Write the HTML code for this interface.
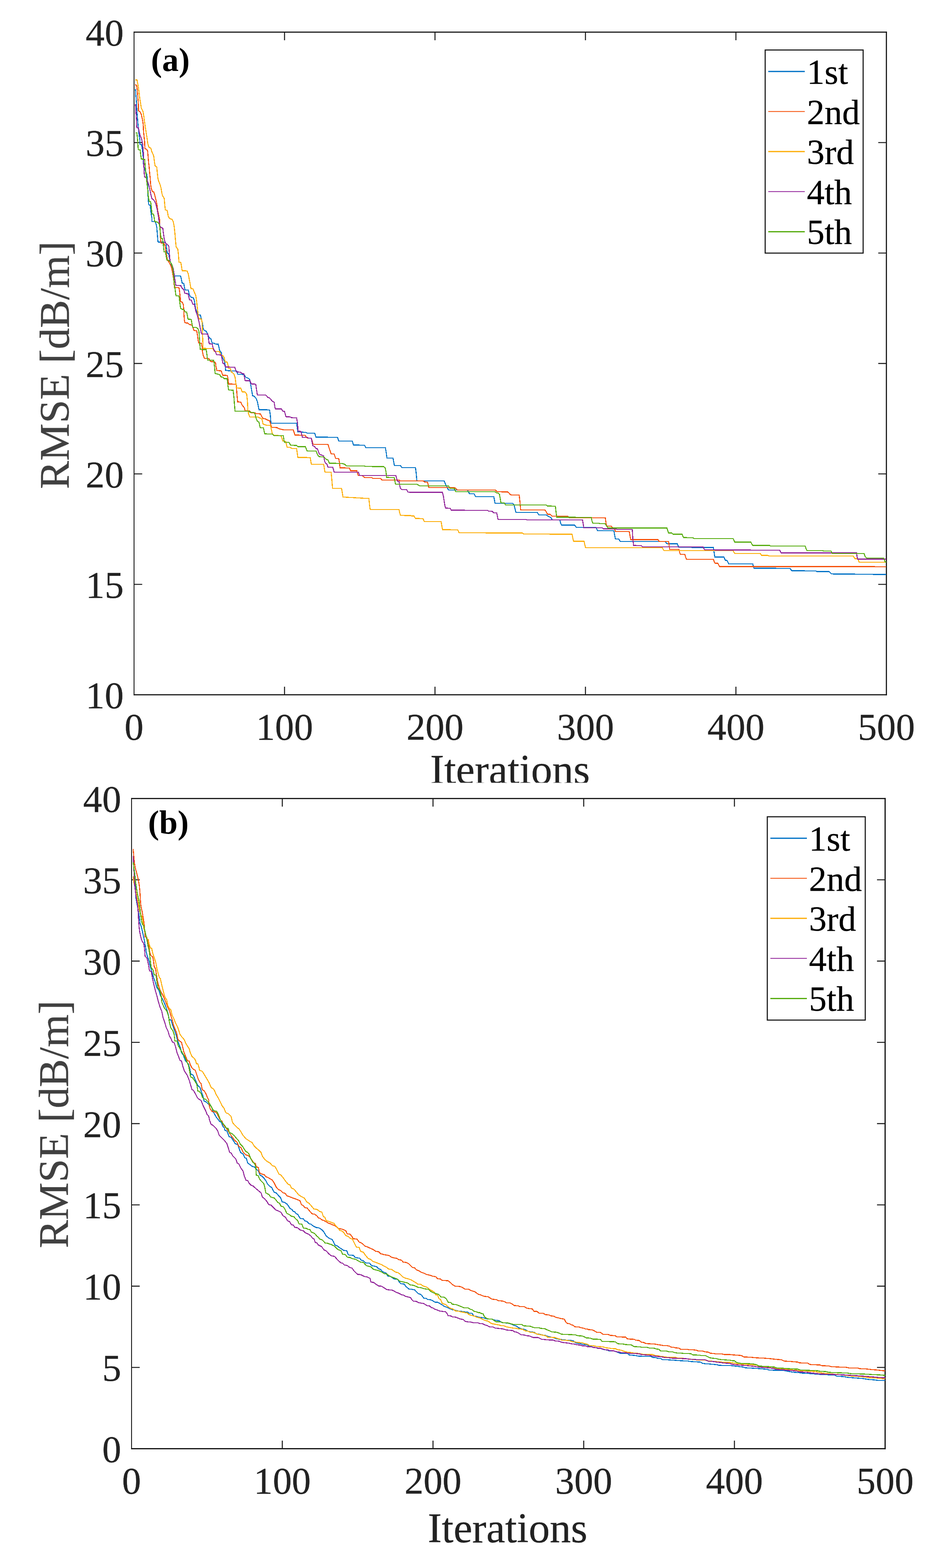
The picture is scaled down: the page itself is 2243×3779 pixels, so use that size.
<!DOCTYPE html>
<html lang="en"><head><meta charset="utf-8"><title>RMSE vs Iterations</title>
<style>html,body{margin:0;padding:0;background:#fff}svg{display:block}text{font-family:"Liberation Serif","DejaVu Serif",serif}.t{font-size:91.67px;fill:#222222;stroke:#222;stroke-width:.4}.l{font-size:101.9px;fill:#222222;stroke:#222;stroke-width:.4}.yl{font-size:101.9px;fill:#404040;stroke:#404040;stroke-width:.4}.g{font-size:85px;fill:#000;stroke:#000;stroke-width:.4}.b{font-size:80px;font-weight:bold;fill:#000}.c{fill:none;stroke-width:2.4;stroke-linejoin:miter;stroke-linecap:butt;shape-rendering:crispEdges}</style></head><body>
<svg width="2243" height="3779" viewBox="0 0 2243 3779">
<rect width="2243" height="3779" fill="#fff"/>
<g id="plot-a">
<path d="M685.50,1674.50 v-19.6 M685.50,77.50 v19.6 M1048.00,1674.50 v-19.6 M1048.00,77.50 v19.6 M1410.50,1674.50 v-19.6 M1410.50,77.50 v19.6 M1773.00,1674.50 v-19.6 M1773.00,77.50 v19.6 M323.00,343.67 h19.6 M2135.50,343.67 h-19.6 M323.00,609.83 h19.6 M2135.50,609.83 h-19.6 M323.00,876.00 h19.6 M2135.50,876.00 h-19.6 M323.00,1142.17 h19.6 M2135.50,1142.17 h-19.6 M323.00,1408.33 h19.6 M2135.50,1408.33 h-19.6" stroke="#161616" stroke-width="2.4" fill="none"/>
<g fill="#161616"><rect x="321.90" y="76.10" width="2.10" height="1599.70"/><rect x="321.90" y="76.10" width="1815.00" height="2.70"/><rect x="2134.20" y="76.10" width="2.70" height="1599.70"/><rect x="321.90" y="1673.10" width="1815.00" height="2.70"/></g>
<g class="c">
<path d="M326.5,215.4 327.5,231.7 328.8,248.0 329.5,264.3 330.9,280.6 332.2,296.9 333.6,310.5 334.3,320.0 335.6,329.6 337.0,337.7 337.0,347.9 341.1,348.6 342.4,356.8 344.2,370.3 345.2,383.9 345.8,397.5 348.6,408.4 353.3,419.3 355.1,428.8 355.6,445.1 356.4,460.1 356.7,473.7 358.1,491.4 359.4,494.1 361.5,494.3 362.8,503.6 364.0,514.6 365.7,524.3 366.1,534.0 373.7,534.3 376.2,540.4 377.8,548.5 379.1,564.7 380.2,577.6 380.7,583.3 398.8,583.8 400.4,590.6 401.7,600.3 402.9,610.3 406.1,610.8 407.7,619.7 410.1,629.4 413.4,639.1 416.6,648.8 418.5,658.5 419.8,665.0 435.2,665.3 437.3,674.7 438.9,682.4 442.8,683.1 444.4,692.5 446.0,698.9 453.8,699.3 455.7,708.6 457.8,713.5 460.3,716.4 465.1,717.0 468.0,723.2 469.7,732.9 470.8,742.6 473.2,749.1 476.1,757.2 478.9,758.8 482.9,759.6 484.5,766.9 487.0,774.9 488.6,784.7 489.4,791.1 491.8,796.0 496.7,798.4 499.9,804.1 502.3,810.5 504.8,814.6 508.0,816.2 510.1,823.5 511.2,826.7 515.3,827.0 518.5,829.1 525.8,829.6 527.4,836.4 529.0,844.5 531.4,847.7 533.4,850.2 535.5,860.7 538.7,867.1 541.1,872.0 542.8,881.7 543.6,893.0 560.0,893.9 570.3,894.4 572.6,901.7 585.2,902.4 588.6,903.5 592.1,909.3 596.7,910.9 601.2,913.8 603.5,924.1 605.8,937.9 608.6,953.9 612.7,955.1 617.3,960.8 620.0,967.7 621.9,976.8 624.1,987.4 649.3,987.8 651.2,999.7 652.8,1019.9 714.6,1019.9 717.6,1041.0 726.1,1041.4 736.4,1042.1 739.8,1043.7 758.2,1044.0 761.1,1053.6 813.2,1053.8 816.1,1062.7 848.7,1063.0 851.6,1072.6 878.0,1072.8 881.2,1078.8 881.8,1079.1 928.6,1079.3 930.9,1093.3 932.2,1103.8 946.9,1104.1 948.7,1113.9 950.1,1121.7 964.8,1121.9 968.2,1126.8 1001.0,1127.0 1002.6,1139.1 1004.2,1157.5 1004.9,1158.8 1070.1,1159.1 1073.6,1167.8 1077.0,1173.5 1078.9,1178.1 1080.5,1180.8 1126.3,1181.3 1128.6,1184.9 1130.9,1189.8 1142.3,1190.0 1145.8,1196.9 1189.7,1197.1 1192.7,1212.9 1200.0,1212.9 1235.5,1213.2 1238.5,1216.8 1240.8,1226.0 1242.8,1234.7 1294.4,1234.9 1298.1,1240.7 1316.4,1240.9 1320.3,1244.3 1325.5,1246.2 1328.3,1248.9 1330.6,1253.0 1348.9,1253.0 1350.7,1260.4 1352.8,1265.4 1384.4,1265.6 1388.3,1270.7 1436.0,1270.9 1439.4,1278.7 1479.0,1278.9 1480.9,1290.1 1482.7,1298.9 1490.5,1299.1 1494.4,1304.8 1520.0,1304.8 1602.5,1305.0 1606.6,1310.3 1631.8,1310.5 1633.9,1315.8 1635.7,1319.2 1718.9,1319.5 1720.5,1331.8 1722.1,1342.4 1744.1,1342.6 1745.9,1346.7 1747.5,1350.4 1751.8,1350.8 1753.7,1354.7 1755.5,1358.9 1813.7,1359.1 1815.1,1365.0 1816.7,1369.4 1830.0,1369.6 1903.3,1369.8 1905.6,1373.0 1907.9,1375.6 1965.6,1375.8 1967.9,1377.4 1997.7,1377.6 2000.7,1380.8 2003.0,1383.1 2012.1,1383.6 2101.5,1383.8 2103.8,1384.5 2135.4,1384.7" stroke="#0072c6"/>
<path d="M326.1,203.4 329.5,207.2 330.9,216.7 332.2,237.1 333.6,253.4 333.6,267.0 337.7,269.7 340.4,275.9 343.1,287.4 345.2,301.0 345.8,316.0 347.2,329.6 348.6,343.2 348.8,358.1 352.6,359.5 355.6,363.5 356.7,375.8 357.8,389.4 359.4,403.0 360.5,416.6 361.9,430.2 362.8,443.8 364.2,453.3 366.9,461.4 370.3,462.1 372.3,468.2 375.1,479.1 377.1,487.3 378.7,496.8 379.8,506.3 384.3,527.5 385.6,548.5 386.2,567.9 387.5,580.9 387.8,585.7 394.8,586.0 398.0,593.8 399.6,605.1 401.7,616.4 403.3,626.2 408.5,634.2 411.8,640.7 414.2,648.8 416.6,661.7 419.0,677.9 420.2,692.5 431.2,693.3 432.8,703.8 434.1,715.1 435.2,727.2 439.2,728.0 441.7,734.5 442.8,745.8 443.3,758.8 444.1,771.7 445.7,778.2 452.2,778.5 456.2,782.2 461.9,783.0 465.1,789.5 466.7,796.0 474.0,797.6 475.6,807.3 477.3,820.2 478.9,826.7 485.3,827.0 487.0,836.4 487.8,847.7 489.4,855.8 492.6,863.9 503.1,864.2 507.2,871.2 516.9,872.0 519.3,875.2 520.4,883.3 522.5,893.0 533.1,893.8 534.9,899.6 536.3,904.3 547.6,904.8 549.1,910.9 550.0,918.5 550.9,925.6 567.5,925.8 569.2,926.4 571.0,951.6 572.6,968.4 580.2,969.0 582.9,975.7 585.7,979.1 588.6,982.6 590.5,990.1 601.2,990.6 604.7,994.7 615.0,995.6 617.3,997.0 627.6,997.5 631.0,1004.8 633.8,1008.5 639.0,1009.4 645.9,1013.0 649.8,1014.0 652.1,1022.7 654.4,1030.0 667.2,1030.4 671.1,1033.0 676.8,1034.6 683.7,1035.9 706.6,1036.2 710.7,1048.5 735.3,1049.0 738.7,1054.3 741.0,1055.9 750.1,1056.3 752.4,1063.9 754.3,1070.8 790.2,1071.0 793.7,1082.2 797.8,1093.7 805.1,1094.1 808.6,1104.7 816.1,1105.1 817.7,1114.3 819.3,1127.6 841.8,1127.8 844.5,1134.5 859.7,1134.7 862.9,1145.9 873.9,1146.4 877.3,1150.5 880.0,1151.0 896.0,1151.3 898.3,1152.9 917.1,1153.1 920.1,1156.8 961.3,1157.0 964.3,1158.8 1019.7,1159.1 1022.5,1161.6 1030.1,1162.0 1031.7,1168.9 1033.0,1174.9 1078.9,1175.1 1095.3,1175.3 1098.8,1177.6 1102.2,1181.1 1193.9,1181.3 1197.3,1184.9 1200.0,1185.2 1222.9,1185.5 1226.3,1188.2 1229.3,1192.1 1232.1,1192.8 1250.9,1193.0 1252.7,1210.0 1254.5,1228.8 1312.7,1229.0 1315.7,1232.9 1319.1,1239.3 1325.5,1239.7 1330.1,1243.9 1367.7,1244.1 1370.7,1247.8 1425.7,1248.0 1458.4,1248.2 1460.0,1260.4 1461.6,1267.7 1472.6,1267.9 1474.9,1271.4 1480.0,1272.3 1482.9,1281.0 1516.2,1281.2 1518.0,1292.4 1519.6,1300.5 1520.0,1300.5 1585.3,1300.5 1588.0,1304.8 1611.0,1305.0 1612.1,1315.8 1613.5,1323.8 1635.7,1324.0 1637.3,1330.7 1638.9,1335.7 1649.9,1335.9 1651.7,1342.1 1653.8,1347.9 1718.9,1348.1 1720.7,1353.6 1722.5,1357.3 1729.6,1357.5 1731.7,1362.1 1733.7,1365.5 1830.0,1365.5 2077.4,1365.5 2135.4,1365.9" stroke="#f5500a"/>
<path d="M326.1,192.5 330.2,192.5 330.6,195.0 331.6,200.4 333.6,211.3 335.6,226.2 337.0,239.8 339.0,250.7 340.4,260.2 344.5,268.4 346.5,280.6 347.9,291.5 349.9,305.1 352.0,318.7 354.0,330.9 356.0,345.9 358.7,354.7 363.5,357.4 365.5,364.9 370.3,375.8 372.3,392.1 373.7,399.6 377.8,403.0 378.7,413.9 380.5,430.2 381.9,435.6 385.3,443.8 388.0,453.3 390.0,465.5 391.4,471.0 395.5,477.8 396.8,491.4 398.2,505.6 402.9,507.3 405.3,521.0 408.5,526.7 414.2,528.3 417.4,534.0 419.5,545.3 421.5,563.1 422.8,579.2 424.4,595.4 428.3,600.3 429.9,613.2 431.2,631.8 435.7,632.6 437.3,642.3 438.9,652.4 450.6,652.8 453.5,660.1 455.7,671.4 457.8,682.8 460.0,695.4 464.8,696.0 468.0,703.8 471.6,711.9 473.2,721.6 474.5,732.9 476.1,747.5 477.3,758.8 478.9,768.5 485.8,768.8 487.0,778.2 487.8,799.2 488.6,821.9 489.4,839.6 512.8,840.0 516.1,846.9 529.0,847.4 531.4,855.0 537.1,857.4 540.3,862.3 542.4,872.0 547.6,872.8 549.6,881.7 550.8,887.8 554.9,888.2 557.6,897.1 560.0,897.8 563.4,901.2 566.4,909.3 568.0,921.9 569.6,935.1 580.2,935.6 583.4,944.3 590.9,944.8 594.4,950.5 596.2,967.7 597.1,988.3 598.9,997.5 601.7,1004.8 621.9,1005.2 626.4,1007.8 631.0,1009.4 633.8,1022.2 639.0,1023.8 642.5,1024.9 651.6,1025.4 654.4,1037.5 656.2,1045.6 659.7,1049.0 676.8,1050.1 679.6,1057.0 681.4,1062.7 688.3,1063.9 691.7,1077.6 698.6,1078.1 703.2,1080.8 714.6,1081.3 717.6,1102.4 747.4,1102.8 750.1,1118.9 779.9,1119.3 782.9,1137.9 797.8,1138.1 799.4,1155.5 801.2,1176.8 823.0,1177.1 826.4,1197.9 834.9,1198.4 880.0,1201.0 888.7,1201.2 890.3,1217.0 891.9,1227.8 961.3,1228.0 962.9,1235.3 964.8,1242.2 989.5,1242.5 991.1,1243.4 997.3,1243.6 1001.0,1249.6 1019.1,1249.8 1022.0,1256.7 1062.8,1256.9 1064.7,1268.6 1066.3,1276.6 1102.7,1276.8 1106.1,1284.1 1200.0,1284.4 1258.4,1284.7 1261.9,1287.2 1378.2,1287.4 1380.1,1297.0 1381.9,1304.4 1407.3,1304.6 1408.9,1313.1 1410.8,1319.9 1520.0,1319.9 1595.6,1319.9 1597.9,1324.5 1599.7,1326.8 1766.3,1327.0 1768.1,1330.7 1770.2,1333.7 1830.0,1333.9 1830.0,1333.9 1832.3,1334.5 1834.6,1338.4 1850.2,1338.7 1852.5,1339.8 2055.7,1340.0 2057.9,1343.7 2059.8,1346.5 2067.1,1346.7 2068.3,1350.6 2069.9,1354.9 2133.6,1355.2" stroke="#fdae0a"/>
<path d="M326.5,251.4 327.5,272.5 328.8,288.8 329.5,306.4 330.2,308.1 333.6,308.5 335.6,318.7 337.7,326.8 341.1,335.0 343.1,344.5 344.5,355.4 345.6,370.3 346.1,383.9 346.5,400.3 347.2,413.9 348.3,426.1 352.0,428.1 355.6,437.0 358.7,446.5 360.8,456.0 362.8,465.5 364.9,475.0 366.2,479.1 369.6,481.2 373.0,485.9 375.7,492.7 378.2,502.2 381.8,522.6 383.5,535.6 385.9,546.9 392.3,550.1 393.6,561.5 395.3,572.8 397.2,582.5 399.6,587.3 403.3,589.0 406.9,593.8 407.7,606.7 408.8,619.7 410.1,631.0 414.2,637.5 417.4,647.2 419.5,660.1 421.5,674.7 423.9,687.9 435.7,688.4 438.4,694.1 442.8,698.1 445.4,707.0 453.0,707.8 455.1,716.7 456.7,722.9 461.1,723.5 464.3,732.9 468.4,733.7 470.3,742.6 471.6,749.9 474.0,755.5 476.4,763.6 478.9,773.3 481.0,783.0 482.9,792.7 484.9,802.4 486.2,804.9 500.7,805.4 502.3,815.4 503.9,828.3 511.2,829.1 513.3,838.0 516.1,844.5 519.3,847.7 521.7,855.0 533.1,855.5 535.0,865.5 537.1,876.0 540.3,876.8 542.8,884.1 545.2,884.6 565.4,884.9 567.8,891.4 569.4,896.2 579.5,897.1 582.9,900.1 587.5,900.8 590.5,917.3 602.4,917.7 605.4,925.3 616.1,925.8 620.0,952.1 640.6,952.3 644.8,957.4 649.3,959.0 652.8,963.1 656.2,967.2 660.3,968.8 663.1,985.3 678.0,985.5 681.4,991.0 685.5,991.7 688.8,1004.3 699.7,1004.8 702.0,1006.6 714.6,1007.1 716.9,1020.4 718.1,1038.7 724.9,1039.8 728.4,1053.6 741.0,1054.3 743.3,1055.9 750.1,1056.3 753.6,1074.2 758.2,1076.5 761.6,1081.1 765.0,1081.8 767.3,1089.1 769.6,1094.8 775.3,1097.1 779.9,1098.7 782.2,1112.0 784.5,1116.6 787.9,1118.9 790.2,1125.8 801.7,1126.2 805.1,1137.7 863.6,1138.1 866.5,1145.9 880.0,1146.0 953.8,1146.2 955.6,1152.9 957.4,1159.3 961.3,1160.2 962.9,1168.9 964.3,1175.8 967.5,1179.7 979.7,1179.9 983.1,1186.3 1066.0,1186.6 1068.3,1196.4 1070.1,1207.9 1072.0,1219.3 1073.6,1224.6 1084.4,1224.8 1087.3,1229.6 1174.4,1229.9 1177.4,1231.9 1185.8,1232.4 1189.3,1235.8 1196.6,1236.0 1198.4,1244.5 1200.0,1251.8 1200.0,1251.8 1200.7,1251.8 1267.6,1251.9 1268.7,1252.8 1403.4,1253.0 1405.0,1262.7 1406.6,1271.8 1450.9,1272.1 1454.3,1274.6 1484.1,1274.8 1486.4,1275.9 1523.0,1276.2 1523.4,1276.8 1524.6,1297.5 1526.4,1314.6 1544.7,1314.9 1547.9,1317.8 1694.1,1318.1 1696.4,1323.1 1698.2,1325.2 1830.0,1325.8 1878.6,1326.1 1880.4,1330.0 1882.2,1332.5 2063.7,1332.7 2064.8,1341.4 2066.4,1347.4 2135.4,1347.6" stroke="#92259a"/>
<path d="M326.5,320.0 329.8,320.3 330.9,330.9 332.0,343.2 332.9,359.5 333.6,360.8 337.7,361.5 339.0,373.1 340.7,383.3 348.6,383.9 349.2,392.1 350.6,408.4 352.0,422.0 353.3,435.6 355.1,450.6 356.4,462.8 357.8,476.4 359.2,485.2 362.8,485.9 364.2,495.4 365.7,509.7 366.5,515.8 370.0,516.2 371.3,524.3 372.9,534.3 377.8,534.8 381.8,537.5 384.3,542.1 385.6,553.4 386.7,564.7 388.3,574.4 391.5,575.2 393.2,587.3 394.3,598.7 395.3,606.7 398.5,607.1 400.1,616.4 402.1,626.5 406.1,627.0 410.1,631.0 414.2,637.5 416.6,648.8 417.9,661.7 419.0,674.7 420.7,689.2 422.3,700.5 423.9,712.7 431.2,713.2 432.5,723.2 434.1,736.1 435.2,742.6 438.4,745.5 442.8,745.8 446.5,752.0 449.8,752.3 451.4,760.4 453.0,769.3 460.6,769.8 462.2,778.2 464.3,788.7 473.2,789.2 477.3,792.7 479.4,799.2 480.5,815.4 481.6,831.6 482.6,842.1 496.7,842.6 498.3,852.6 499.4,862.3 500.4,867.9 514.9,868.4 516.1,876.8 517.2,888.2 518.2,900.0 529.7,903.1 531.1,906.7 533.0,908.6 537.3,908.9 539.6,912.4 547.2,912.6 548.1,920.4 549.5,931.7 550.9,940.2 561.8,940.4 562.7,949.6 563.7,959.1 564.6,971.3 565.6,982.6 566.0,990.7 598.9,990.8 602.4,993.6 612.2,994.0 615.0,999.7 617.3,1008.9 620.0,1015.3 623.7,1016.9 626.9,1030.7 634.5,1031.1 637.9,1045.6 656.2,1046.0 659.7,1049.7 682.6,1049.9 684.9,1065.7 696.3,1066.0 700.2,1073.1 714.6,1073.5 717.6,1076.5 735.9,1076.7 739.8,1086.8 761.6,1087.0 765.0,1096.0 768.5,1100.5 779.9,1101.2 785.7,1107.0 790.2,1108.6 793.7,1116.6 823.5,1116.8 830.3,1118.9 834.9,1123.0 878.4,1123.2 880.0,1124.2 924.7,1124.5 928.1,1127.7 929.9,1136.8 931.5,1150.6 949.9,1151.0 951.5,1159.7 952.9,1166.8 1004.9,1167.1 1010.6,1170.7 1080.5,1171.0 1083.9,1176.9 1094.9,1177.4 1097.6,1184.9 1192.7,1185.2 1196.2,1187.9 1200.7,1188.6 1203.4,1191.6 1205.0,1200.8 1206.9,1211.8 1214.9,1212.0 1217.9,1216.8 1315.7,1217.1 1319.1,1219.6 1338.1,1219.8 1339.7,1235.2 1341.4,1246.6 1424.5,1246.8 1426.3,1255.8 1428.2,1260.8 1442.8,1261.1 1445.1,1261.7 1457.7,1262.0 1461.2,1267.2 1464.6,1272.3 1520.0,1272.3 1606.6,1272.5 1608.9,1279.1 1610.7,1284.4 1618.5,1284.6 1621.3,1287.4 1643.3,1287.6 1645.5,1292.9 1647.1,1295.6 1669.4,1295.9 1671.7,1297.9 1766.3,1298.1 1768.6,1303.2 1770.2,1306.4 1809.1,1306.6 1811.4,1311.7 1813.9,1314.6 1830.0,1314.6 1854.1,1314.6 1856.3,1315.8 1940.0,1316.0 1942.3,1323.1 1944.5,1327.0 1982.3,1327.2 1984.0,1327.9 2002.3,1328.1 2004.6,1333.9 2082.0,1334.3 2084.3,1341.4 2087.7,1344.9 2129.0,1345.1 2131.3,1351.7 2133.6,1354.7 2135.4,1355.2" stroke="#58ad12"/>
</g>
<text class="t" text-anchor="end" x="298.0" y="110.0">40</text>
<text class="t" text-anchor="end" x="298.0" y="376.2">35</text>
<text class="t" text-anchor="end" x="298.0" y="642.3">30</text>
<text class="t" text-anchor="end" x="298.0" y="908.5">25</text>
<text class="t" text-anchor="end" x="298.0" y="1174.7">20</text>
<text class="t" text-anchor="end" x="298.0" y="1440.8">15</text>
<text class="t" text-anchor="end" x="298.0" y="1707.0">10</text>
<text class="t" text-anchor="middle" x="323.0" y="1783.0">0</text>
<text class="t" text-anchor="middle" x="685.5" y="1783.0">100</text>
<text class="t" text-anchor="middle" x="1048.0" y="1783.0">200</text>
<text class="t" text-anchor="middle" x="1410.5" y="1783.0">300</text>
<text class="t" text-anchor="middle" x="1773.0" y="1783.0">400</text>
<text class="t" text-anchor="middle" x="2135.5" y="1783.0">500</text>
<clipPath id="clipa"><rect x="900" y="1790" width="700" height="96.5"/></clipPath>
<text class="l" text-anchor="middle" x="1228.7" y="1889.0" clip-path="url(#clipa)">Iterations</text>
<text class="yl" text-anchor="middle" transform="translate(165.6,880.0) rotate(-90)">RMSE [dB/m]</text>
<text class="b" x="363.8" y="171">(a)</text>
<rect x="1843.50" y="120.50" width="236.00" height="489.50" fill="#fff" stroke="#161616" stroke-width="2.6"/>
<path d="M1850.9,172.2 h88" stroke="#0072c6" stroke-width="3" fill="none"/>
<text class="g" x="1944.0" y="202.4">1st</text>
<path d="M1850.9,268.8 h88" stroke="#f5500a" stroke-width="2" fill="none"/>
<text class="g" x="1944.0" y="298.9">2nd</text>
<path d="M1850.9,365.3 h88" stroke="#fdae0a" stroke-width="3" fill="none"/>
<text class="g" x="1944.0" y="395.4">3rd</text>
<path d="M1850.9,461.8 h88" stroke="#92259a" stroke-width="2" fill="none"/>
<text class="g" x="1944.0" y="491.9">4th</text>
<path d="M1850.9,558.4 h88" stroke="#58ad12" stroke-width="3" fill="none"/>
<text class="g" x="1944.0" y="588.4">5th</text>
</g>
<g id="plot-b">
<path d="M680.10,3491.50 v-19.6 M680.10,1924.50 v19.6 M1043.20,3491.50 v-19.6 M1043.20,1924.50 v19.6 M1406.30,3491.50 v-19.6 M1406.30,1924.50 v19.6 M1769.40,3491.50 v-19.6 M1769.40,1924.50 v19.6 M317.00,2120.38 h19.6 M2132.50,2120.38 h-19.6 M317.00,2316.25 h19.6 M2132.50,2316.25 h-19.6 M317.00,2512.12 h19.6 M2132.50,2512.12 h-19.6 M317.00,2708.00 h19.6 M2132.50,2708.00 h-19.6 M317.00,2903.88 h19.6 M2132.50,2903.88 h-19.6 M317.00,3099.75 h19.6 M2132.50,3099.75 h-19.6 M317.00,3295.62 h19.6 M2132.50,3295.62 h-19.6" stroke="#161616" stroke-width="2.4" fill="none"/>
<g fill="#161616"><rect x="315.90" y="1923.10" width="2.10" height="1569.80"/><rect x="315.90" y="1923.10" width="1818.00" height="2.80"/><rect x="2131.00" y="1923.10" width="2.90" height="1569.80"/><rect x="315.90" y="3490.00" width="1818.00" height="2.90"/></g>
<g class="c">
<path d="M321.1,2079.6 323.3,2096.0 325.2,2109.6 326.0,2123.2 326.6,2136.8 327.0,2150.3 327.4,2163.9 330.4,2180.3 333.8,2197.9 335.8,2210.2 337.2,2223.8 340.6,2234.6 343.3,2245.5 345.6,2256.4 347.8,2265.9 349.4,2276.8 350.5,2280.0 352.3,2294.0 354.9,2304.5 358.4,2313.3 361.9,2329.1 366.3,2343.1 369.8,2355.3 374.2,2367.6 377.7,2379.9 382.9,2386.9 386.4,2399.1 392.6,2409.6 397.8,2421.9 402.2,2434.2 405.7,2446.4 407.4,2456.9 411.8,2457.8 415.3,2469.2 419.7,2481.5 424.1,2493.7 427.2,2506.0 431.1,2516.5 434.6,2525.3 437.2,2536.7 441.6,2542.8 446.9,2556.8 453.9,2563.8 457.4,2576.1 460.0,2589.2 465.3,2591.0 470.5,2602.4 474.9,2612.9 477.5,2617.2 481.9,2620.7 485.4,2632.1 488.9,2640.9 491.5,2653.2 496.8,2655.8 501.2,2660.2 507.3,2664.5 510.8,2670.7 513.4,2680.0 514.4,2680.0 516.7,2684.7 521.2,2692.7 525.8,2698.4 529.3,2703.0 533.2,2704.1 536.1,2713.3 540.7,2719.0 541.9,2724.3 546.4,2725.2 549.9,2733.9 552.2,2739.7 556.7,2740.8 561.3,2747.7 567.1,2756.8 572.8,2758.0 576.2,2768.3 579.7,2777.5 583.1,2780.2 585.8,2780.9 589.5,2790.1 593.4,2791.7 596.8,2802.7 602.6,2807.2 608.3,2811.4 612.9,2812.3 617.5,2817.5 623.2,2823.3 626.6,2832.4 631.2,2834.7 636.9,2840.5 641.5,2847.3 644.9,2854.2 650.7,2859.9 654.6,2861.8 657.5,2867.9 661.0,2873.7 665.6,2874.8 670.1,2880.5 675.9,2886.3 679.8,2896.6 685.0,2897.7 690.8,2901.2 695.3,2906.9 698.8,2912.6 703.4,2914.9 705.7,2919.0 710.2,2920.6 713.7,2925.2 717.1,2926.4 720.5,2932.1 724.0,2937.1 730.9,2937.4 734.3,2942.4 738.9,2943.6 744.6,2949.3 749.2,2950.4 754.9,2955.0 761.8,2958.4 767.5,2958.9 774.4,2963.0 780.1,2968.8 784.7,2976.8 787.0,2980.0 789.6,2981.5 793.7,2984.9 797.7,2986.3 800.0,2987.1 803.4,2992.8 806.9,3000.8 812.6,3002.6 817.2,3006.5 822.9,3010.0 827.5,3013.4 835.5,3014.5 838.5,3022.6 841.2,3024.9 851.5,3025.5 856.1,3031.0 866.4,3032.2 869.9,3037.0 875.6,3038.6 881.3,3043.9 890.5,3044.3 895.1,3050.1 900.8,3051.2 907.7,3053.0 912.3,3058.1 916.8,3059.2 920.3,3063.8 927.1,3067.2 930.6,3068.4 934.0,3075.3 940.9,3076.4 948.9,3082.1 958.1,3083.3 961.5,3089.0 966.1,3094.0 974.1,3094.7 977.5,3100.5 982.1,3103.9 985.6,3106.9 992.4,3107.3 999.3,3108.9 1003.9,3114.2 1008.5,3118.1 1014.2,3119.9 1018.8,3125.7 1021.1,3128.6 1026.8,3129.1 1030.2,3131.8 1037.1,3132.5 1042.8,3134.8 1047.4,3138.3 1055.4,3138.7 1060.0,3141.7 1065.8,3145.1 1070.3,3148.6 1076.1,3150.2 1081.8,3153.2 1088.7,3156.1 1095.5,3157.7 1104.7,3160.0 1112.7,3160.7 1119.6,3161.4 1120.0,3161.9 1126.9,3162.1 1130.3,3164.9 1137.2,3165.3 1141.8,3171.7 1147.5,3172.4 1150.9,3174.0 1157.8,3175.2 1165.8,3176.3 1170.4,3178.1 1175.0,3178.6 1186.4,3179.3 1191.0,3181.6 1197.9,3182.0 1202.5,3183.2 1208.2,3187.1 1212.8,3187.8 1224.2,3188.9 1232.3,3191.2 1238.0,3194.0 1243.7,3195.8 1248.3,3199.2 1252.9,3201.5 1257.5,3203.1 1264.3,3203.8 1268.9,3206.8 1274.6,3209.5 1280.4,3210.0 1288.4,3211.4 1291.8,3214.6 1301.0,3215.9 1306.7,3217.5 1314.7,3218.7 1320.5,3221.0 1325.0,3222.1 1330.8,3223.3 1336.5,3225.1 1341.1,3226.7 1349.1,3227.9 1356.0,3229.0 1362.8,3229.7 1373.2,3230.1 1381.2,3231.3 1385.8,3235.9 1391.5,3237.5 1398.4,3238.2 1402.9,3239.8 1413.2,3241.1 1417.8,3242.7 1427.0,3246.2 1431.6,3248.0 1439.6,3248.5 1440.0,3249.4 1448.0,3250.1 1453.7,3252.3 1461.8,3253.5 1467.5,3255.6 1478.9,3256.0 1484.7,3257.6 1489.3,3259.7 1493.8,3261.5 1512.2,3262.0 1515.6,3265.4 1521.3,3266.1 1530.5,3266.8 1538.5,3268.4 1547.7,3268.8 1568.3,3269.3 1572.9,3271.4 1579.7,3271.8 1584.3,3273.7 1592.3,3274.1 1595.8,3276.9 1609.5,3277.3 1623.3,3278.2 1639.3,3279.4 1657.6,3280.3 1664.5,3281.4 1677.1,3282.1 1688.6,3282.8 1692.0,3285.6 1698.9,3286.7 1710.3,3287.4 1719.5,3288.3 1727.5,3289.0 1732.1,3290.6 1758.4,3291.1 1760.0,3291.1 1773.5,3292.7 1789.6,3294.6 1795.0,3296.4 1813.9,3297.5 1830.1,3298.6 1846.3,3299.9 1853.0,3301.8 1867.8,3302.6 1889.4,3303.2 1900.2,3305.3 1910.9,3307.2 1924.4,3308.0 1932.5,3309.4 1954.1,3310.5 1970.2,3312.1 1991.8,3313.2 2010.7,3314.2 2016.1,3316.7 2032.2,3317.7 2043.0,3319.6 2056.5,3320.7 2078.1,3322.3 2091.5,3324.5 2107.7,3325.8 2115.8,3326.9 2132.5,3327.2" stroke="#0072c6"/>
<path d="M320.9,2046.3 321.6,2055.2 322.9,2068.8 324.3,2082.4 326.3,2093.2 329.0,2102.8 331.8,2113.6 333.8,2123.2 335.8,2135.4 337.2,2150.3 337.9,2163.9 338.8,2177.5 340.6,2188.4 342.9,2199.3 344.7,2210.2 346.4,2221.0 347.8,2231.9 348.7,2245.5 349.4,2257.8 353.5,2259.1 356.9,2270.0 358.4,2280.0 361.0,2295.8 363.7,2302.8 368.0,2306.3 369.8,2315.0 371.5,2329.1 375.0,2336.1 376.8,2348.3 379.4,2364.1 382.0,2374.6 385.9,2386.9 389.9,2393.9 394.3,2402.6 398.7,2413.1 403.9,2427.2 408.3,2435.9 411.8,2448.2 415.3,2458.7 418.0,2471.0 422.3,2481.5 425.8,2490.2 428.5,2504.2 431.1,2507.8 437.2,2512.1 439.9,2521.8 442.5,2534.0 446.0,2542.8 449.5,2551.5 452.1,2556.5 455.6,2557.2 458.3,2565.6 461.8,2572.6 466.1,2577.0 470.5,2579.6 474.0,2590.1 477.5,2600.6 481.0,2607.6 484.5,2612.0 487.2,2626.0 492.4,2629.5 495.9,2635.6 499.4,2644.4 502.9,2651.4 503.8,2663.7 506.4,2672.4 510.8,2678.6 518.7,2680.0 523.5,2684.7 528.1,2695.0 531.5,2700.7 535.0,2701.9 537.3,2709.9 543.0,2716.7 548.7,2723.6 553.3,2731.6 559.0,2739.7 564.8,2747.7 571.6,2753.4 575.1,2762.6 580.8,2766.0 585.4,2776.3 592.3,2783.2 599.1,2785.5 603.7,2791.2 608.3,2798.1 611.7,2803.1 615.2,2803.8 617.5,2811.8 622.5,2814.1 624.8,2825.6 627.8,2828.3 632.3,2830.1 636.9,2831.3 640.4,2835.9 646.1,2838.2 651.8,2841.6 656.4,2844.4 661.0,2851.9 665.6,2861.1 671.3,2867.3 675.9,2869.1 681.6,2874.8 687.3,2876.0 690.8,2881.7 697.6,2884.0 704.5,2887.0 711.4,2889.3 718.3,2892.0 722.8,2893.8 726.3,2903.5 730.9,2905.8 734.3,2910.3 740.0,2911.5 745.8,2918.4 751.5,2925.2 758.4,2926.4 764.1,2931.0 767.5,2935.5 771.0,2936.0 775.5,2940.1 780.1,2941.3 785.8,2944.7 791.6,2948.1 798.4,2950.4 800.0,2951.5 806.9,2953.8 812.6,2958.4 817.2,2961.4 822.9,2961.9 828.6,2964.1 833.2,2966.4 836.7,2973.8 843.5,2974.5 848.1,2980.2 850.9,2985.5 859.6,2985.9 865.3,2993.5 869.9,2995.1 874.5,2998.5 879.0,3003.1 884.8,3004.9 890.5,3007.7 898.5,3011.1 905.4,3015.7 912.3,3016.8 916.8,3021.4 924.9,3023.7 931.7,3024.9 937.5,3026.0 943.2,3030.1 950.1,3031.7 956.9,3032.9 960.4,3035.9 967.2,3037.0 971.4,3042.0 978.7,3042.5 984.4,3045.5 989.0,3050.1 993.6,3054.6 999.3,3055.8 1003.9,3061.1 1008.5,3062.2 1014.2,3066.1 1021.1,3068.4 1027.9,3071.8 1034.8,3073.0 1042.8,3075.9 1049.7,3076.9 1054.3,3081.7 1061.2,3082.6 1064.6,3085.6 1079.5,3086.7 1085.2,3091.3 1091.0,3096.6 1096.7,3099.8 1108.1,3100.5 1113.9,3102.7 1119.6,3106.6 1120.0,3106.9 1129.2,3107.1 1133.7,3109.9 1138.3,3111.5 1144.1,3112.9 1148.6,3116.7 1153.2,3119.7 1157.8,3120.6 1161.2,3122.5 1167.0,3124.3 1176.1,3125.2 1180.7,3128.2 1185.3,3131.2 1195.6,3132.1 1200.2,3134.6 1211.6,3135.8 1216.2,3137.4 1220.8,3140.1 1228.8,3140.3 1234.5,3143.1 1239.1,3146.5 1248.3,3147.0 1251.7,3148.8 1263.2,3149.3 1268.9,3152.7 1275.8,3153.9 1282.7,3154.5 1286.1,3160.3 1294.1,3160.7 1298.7,3164.9 1309.0,3165.1 1313.6,3168.3 1322.7,3169.0 1327.3,3171.3 1334.2,3172.0 1338.8,3174.7 1345.7,3176.3 1351.4,3177.9 1359.4,3179.1 1362.8,3185.5 1366.3,3189.4 1372.0,3190.1 1376.6,3193.0 1381.2,3194.0 1384.6,3197.6 1394.9,3198.1 1399.5,3199.9 1406.4,3201.1 1411.0,3203.1 1415.5,3203.3 1417.8,3204.5 1425.8,3204.9 1431.6,3207.2 1437.3,3210.7 1440.0,3211.1 1446.9,3211.3 1452.6,3215.7 1465.2,3216.2 1470.9,3218.4 1482.4,3219.1 1485.8,3221.9 1507.6,3222.6 1511.0,3226.5 1517.9,3227.4 1528.2,3227.8 1531.6,3230.1 1539.7,3230.6 1545.4,3234.7 1551.1,3235.6 1555.7,3237.9 1563.7,3238.6 1576.3,3239.1 1583.2,3240.4 1591.2,3241.6 1596.9,3242.7 1607.2,3243.2 1613.0,3244.3 1616.4,3246.6 1623.3,3247.1 1627.9,3248.5 1635.9,3248.9 1639.3,3251.7 1655.3,3252.1 1659.9,3252.8 1671.4,3253.3 1678.3,3254.2 1681.7,3255.8 1693.2,3256.2 1698.9,3258.1 1706.9,3258.8 1711.5,3261.5 1719.5,3262.0 1724.1,3262.9 1740.1,3263.3 1744.7,3264.5 1759.6,3264.7 1760.0,3264.9 1770.8,3265.7 1785.6,3266.8 1792.3,3270.3 1808.5,3271.1 1823.3,3272.5 1840.9,3273.3 1854.3,3274.3 1867.8,3276.0 1882.6,3277.0 1889.4,3280.3 1905.6,3281.3 1921.7,3282.7 1925.8,3284.6 1946.0,3285.1 1951.4,3288.6 1975.6,3289.7 1979.7,3291.3 1997.2,3292.1 2002.6,3293.7 2018.8,3294.6 2040.3,3295.4 2044.4,3296.7 2067.3,3297.3 2071.3,3298.6 2088.8,3299.4 2099.6,3300.8 2113.1,3301.8 2122.5,3302.9 2132.5,3304.0" stroke="#f5500a"/>
<path d="M320.9,2111.6 322.2,2125.9 324.3,2134.0 327.0,2147.6 330.4,2163.9 333.1,2177.5 335.2,2191.1 338.6,2203.4 342.0,2208.8 344.0,2218.3 345.6,2229.2 346.7,2238.7 349.4,2245.5 351.5,2253.7 353.5,2263.2 357.6,2264.6 358.9,2274.1 361.0,2280.0 361.9,2284.4 365.4,2285.3 368.0,2297.5 371.5,2308.0 375.0,2318.5 377.7,2332.6 381.2,2346.6 383.8,2355.3 386.4,2358.8 389.1,2371.1 392.6,2385.1 396.1,2399.1 398.7,2405.3 401.7,2409.6 403.9,2421.9 407.4,2429.8 411.8,2434.2 414.5,2446.4 418.8,2455.2 422.3,2464.0 427.6,2474.5 431.1,2485.0 433.7,2492.9 438.1,2499.0 444.2,2506.0 447.7,2514.8 452.1,2521.8 455.6,2527.0 458.3,2536.7 462.6,2546.3 468.8,2551.5 471.4,2556.8 473.1,2563.5 476.7,2563.8 479.3,2572.6 481.0,2579.6 487.2,2581.7 492.4,2590.1 497.7,2598.9 503.8,2609.4 507.3,2618.1 509.9,2622.0 514.3,2624.3 517.8,2630.4 520.4,2637.4 524.8,2644.4 530.1,2654.9 535.3,2665.4 539.7,2670.7 543.2,2680.0 545.3,2682.4 549.9,2684.0 556.7,2690.9 560.2,2705.3 564.8,2711.0 570.5,2716.7 576.2,2721.3 580.8,2728.2 585.4,2736.2 592.3,2744.2 596.8,2747.2 602.6,2751.1 607.1,2753.4 612.9,2762.6 617.5,2767.1 623.2,2771.7 628.9,2777.5 632.3,2786.6 638.1,2794.6 643.8,2799.2 650.7,2803.1 656.4,2809.5 662.1,2811.1 666.7,2818.7 672.4,2830.1 677.0,2832.0 682.7,2839.3 688.5,2847.3 694.2,2854.2 698.8,2855.8 702.2,2863.4 707.9,2865.7 713.7,2872.5 719.4,2879.4 726.3,2884.0 733.2,2887.4 738.9,2896.6 744.6,2900.0 751.5,2908.0 756.1,2913.8 764.1,2914.9 769.8,2919.5 775.5,2921.3 779.0,2932.1 782.4,2933.2 785.8,2941.9 793.9,2944.2 799.6,2946.5 800.0,2947.0 804.6,2948.1 808.0,2953.2 812.6,2957.3 818.3,2965.3 824.1,2966.9 828.6,2971.0 833.2,2977.9 838.9,2979.7 843.5,2984.3 849.3,2986.6 851.5,2991.6 855.0,2998.5 858.4,3005.4 865.3,3006.5 868.7,3015.7 875.6,3018.0 880.2,3024.9 887.1,3033.3 892.8,3035.2 898.5,3040.2 904.2,3042.0 911.1,3044.8 919.1,3047.8 924.9,3051.2 931.7,3054.6 936.3,3058.5 943.2,3059.2 948.9,3063.1 953.5,3066.1 959.2,3067.2 964.9,3071.8 970.7,3077.5 976.4,3080.3 983.3,3082.1 990.1,3084.4 995.9,3087.9 1001.6,3091.3 1006.2,3094.7 1014.2,3095.4 1018.8,3099.3 1025.7,3101.1 1030.2,3103.4 1036.0,3108.5 1042.8,3111.9 1046.3,3114.2 1049.7,3120.4 1054.3,3121.1 1057.7,3130.2 1061.2,3131.4 1065.8,3141.7 1071.5,3143.3 1074.9,3144.7 1079.5,3149.3 1085.2,3153.2 1091.0,3154.8 1096.7,3159.3 1104.7,3160.0 1111.6,3161.9 1119.6,3163.0 1120.0,3163.7 1125.7,3164.2 1129.2,3167.8 1133.7,3169.4 1139.5,3171.0 1144.1,3172.4 1148.6,3174.7 1156.7,3176.3 1162.4,3179.7 1167.0,3181.6 1171.5,3183.2 1176.1,3183.9 1180.7,3187.8 1185.3,3190.1 1191.0,3191.2 1196.7,3192.3 1201.3,3193.0 1205.9,3194.6 1213.9,3195.3 1219.7,3197.6 1227.7,3199.2 1233.4,3200.4 1243.7,3201.5 1249.4,3202.7 1259.7,3203.8 1264.3,3207.2 1272.3,3208.4 1276.9,3210.7 1284.9,3211.4 1289.5,3213.0 1294.1,3215.3 1301.0,3216.4 1305.6,3217.5 1312.4,3218.7 1315.9,3219.8 1319.3,3222.6 1330.8,3223.3 1337.6,3223.7 1343.4,3226.0 1349.1,3227.4 1352.5,3229.7 1362.8,3230.1 1373.2,3231.3 1378.9,3233.6 1385.8,3234.3 1391.5,3235.2 1402.9,3236.3 1408.7,3238.2 1415.5,3239.8 1420.1,3242.7 1429.3,3243.2 1437.3,3245.0 1440.0,3245.0 1443.4,3245.5 1451.5,3245.9 1456.0,3247.1 1460.6,3248.5 1467.5,3248.9 1473.2,3250.1 1483.5,3250.7 1488.1,3253.0 1496.1,3254.0 1500.7,3255.8 1507.6,3258.1 1513.3,3259.2 1522.5,3259.9 1528.2,3261.1 1536.2,3261.5 1545.4,3263.1 1550.0,3264.3 1572.9,3264.7 1577.5,3266.6 1586.6,3267.7 1592.3,3269.1 1600.4,3269.8 1607.2,3270.9 1627.9,3271.4 1632.4,3273.0 1646.2,3273.4 1650.8,3274.8 1663.4,3275.5 1669.1,3276.9 1680.5,3277.5 1698.9,3278.0 1703.5,3279.4 1710.3,3280.5 1724.1,3281.0 1728.7,3282.1 1737.8,3282.6 1744.7,3283.3 1759.6,3283.7 1760.0,3283.8 1768.1,3285.1 1776.2,3286.7 1792.3,3287.8 1808.5,3288.9 1824.7,3290.5 1832.8,3293.7 1848.9,3295.4 1862.4,3297.3 1875.9,3298.6 1894.8,3300.5 1910.9,3301.8 1927.1,3303.5 1948.7,3304.5 1964.9,3305.9 1975.6,3308.0 1986.4,3309.9 2002.6,3311.3 2018.8,3312.6 2037.6,3314.8 2051.1,3316.4 2070.0,3317.5 2083.5,3318.8 2094.2,3320.4 2110.4,3321.2 2123.9,3322.3 2132.5,3322.9" stroke="#fdae0a"/>
<path d="M321.1,2063.3 321.6,2082.4 322.5,2096.0 323.3,2109.6 323.9,2123.2 324.7,2135.4 326.0,2146.3 327.4,2157.1 329.0,2168.0 331.1,2178.9 332.4,2191.1 333.1,2204.7 334.2,2221.0 335.2,2234.6 336.5,2245.5 338.6,2255.0 340.6,2263.2 342.6,2268.6 345.6,2272.7 347.4,2280.0 348.8,2294.0 349.6,2304.5 354.0,2308.9 357.5,2323.8 360.1,2339.6 364.5,2341.3 367.2,2357.1 370.7,2372.9 374.2,2386.9 377.7,2399.1 381.2,2413.1 385.6,2427.2 389.9,2437.7 392.6,2451.7 396.9,2464.0 400.4,2476.2 404.8,2485.0 408.3,2497.2 411.8,2502.5 415.3,2511.3 419.7,2513.0 423.2,2523.5 426.7,2537.5 430.2,2546.3 433.7,2555.9 437.2,2556.8 440.7,2570.8 444.2,2581.3 450.4,2590.1 455.6,2602.4 459.1,2614.6 462.6,2626.0 466.1,2627.8 471.4,2637.4 475.8,2646.2 480.2,2649.7 484.5,2652.3 488.9,2663.7 494.2,2674.2 496.8,2680.0 498.3,2684.7 502.9,2690.4 505.2,2700.7 508.6,2709.9 513.2,2712.2 520.1,2719.0 524.7,2725.9 528.1,2736.2 533.8,2741.9 540.7,2748.8 546.4,2755.7 549.9,2766.0 553.3,2777.5 556.7,2778.6 561.3,2786.6 568.2,2793.5 571.6,2803.1 575.1,2804.9 579.7,2814.1 585.4,2822.1 588.8,2834.7 592.7,2844.4 596.8,2845.5 600.3,2851.9 604.9,2856.5 609.4,2858.1 615.2,2863.4 622.0,2869.1 628.9,2874.8 632.3,2885.1 638.1,2889.7 643.8,2896.6 647.2,2903.0 653.0,2904.6 658.7,2910.3 664.4,2916.1 670.1,2918.4 677.0,2921.8 681.6,2929.8 687.3,2933.2 693.1,2942.4 697.6,2944.2 702.2,2951.6 706.8,2952.7 710.2,2958.0 717.1,2958.9 722.8,2964.2 730.9,2966.5 735.4,2971.0 743.5,2974.5 750.3,2980.0 751.9,2982.9 756.6,2986.3 758.6,2991.6 760.0,2995.0 764.0,2995.7 766.7,3000.4 770.8,3002.4 774.8,3004.4 778.2,3009.2 781.5,3013.2 784.9,3013.9 788.9,3017.9 792.3,3022.0 795.7,3024.7 799.1,3027.0 800.0,3027.1 805.7,3027.8 810.3,3032.9 814.9,3038.1 821.8,3043.9 825.2,3044.3 829.3,3048.5 836.7,3050.1 842.4,3054.6 848.1,3056.2 852.7,3062.7 857.3,3067.2 861.9,3071.4 868.7,3071.8 875.6,3075.3 880.2,3077.1 884.8,3077.5 891.6,3081.0 893.9,3090.1 899.7,3090.6 905.4,3094.7 912.3,3099.3 919.1,3099.8 924.9,3103.4 930.6,3107.3 935.2,3108.5 944.3,3109.2 950.1,3111.9 955.8,3115.3 960.4,3116.5 967.2,3120.4 971.8,3121.1 977.5,3124.5 983.3,3125.7 989.0,3127.3 992.4,3132.5 995.9,3136.0 1002.7,3136.4 1008.5,3139.4 1014.2,3140.5 1021.1,3141.7 1029.1,3147.0 1034.8,3147.4 1039.4,3151.5 1042.8,3152.0 1047.4,3155.4 1052.0,3156.6 1058.9,3159.6 1065.8,3160.5 1073.8,3161.6 1077.2,3165.8 1079.5,3170.8 1086.4,3171.5 1089.8,3173.8 1097.8,3174.5 1104.7,3177.2 1109.3,3179.0 1116.2,3180.0 1119.6,3183.6 1120.0,3184.3 1124.6,3185.5 1133.7,3186.2 1140.6,3187.8 1152.1,3188.2 1155.5,3189.8 1162.4,3190.3 1169.3,3193.5 1173.8,3194.6 1178.4,3197.6 1187.6,3198.1 1193.3,3200.8 1200.2,3201.5 1210.5,3202.7 1215.1,3203.8 1220.8,3205.4 1227.7,3206.1 1235.7,3206.8 1239.1,3209.5 1244.9,3210.7 1250.6,3213.7 1255.2,3216.9 1263.2,3217.5 1268.9,3219.2 1275.8,3219.8 1283.8,3223.3 1296.4,3223.7 1301.0,3225.6 1305.6,3227.9 1313.6,3228.5 1319.3,3229.2 1333.1,3229.7 1337.6,3231.8 1346.8,3232.4 1351.4,3234.3 1356.0,3235.4 1362.8,3236.3 1369.7,3237.0 1375.4,3238.4 1383.5,3239.3 1390.3,3241.1 1397.2,3241.6 1402.9,3243.4 1411.0,3243.9 1414.4,3245.5 1424.7,3246.0 1429.3,3247.3 1437.3,3248.0 1440.0,3249.4 1448.0,3249.6 1451.5,3251.2 1458.3,3253.0 1466.3,3253.7 1468.6,3255.1 1478.9,3255.6 1484.7,3257.6 1491.5,3258.3 1496.1,3259.7 1507.6,3260.4 1513.3,3261.1 1519.0,3261.7 1531.6,3262.2 1540.8,3263.1 1546.5,3264.9 1554.5,3265.4 1564.9,3266.3 1570.6,3267.9 1579.7,3268.4 1585.5,3269.5 1593.5,3270.0 1601.5,3271.8 1611.8,3272.3 1616.4,3273.2 1630.1,3273.7 1637.0,3274.1 1653.1,3274.6 1659.9,3275.7 1671.4,3276.2 1679.4,3276.9 1698.9,3277.3 1703.5,3279.2 1708.0,3281.0 1719.5,3281.4 1725.2,3282.6 1735.5,3283.7 1744.7,3285.1 1759.6,3286.0 1760.0,3286.5 1765.4,3288.4 1781.6,3290.0 1797.7,3291.1 1813.9,3292.7 1830.1,3295.1 1848.9,3296.4 1862.4,3297.8 1870.5,3300.2 1886.7,3301.3 1900.2,3302.6 1919.0,3304.0 1924.4,3306.1 1943.3,3307.2 1959.5,3309.4 1975.6,3311.3 1997.2,3312.1 2016.1,3312.9 2034.9,3313.7 2051.1,3314.8 2072.7,3316.1 2091.5,3317.5 2110.4,3319.1 2121.2,3320.2 2132.5,3320.7" stroke="#92259a"/>
<path d="M321.1,2078.3 322.9,2096.0 325.0,2109.6 326.3,2123.2 328.4,2136.8 330.4,2150.3 332.4,2159.9 334.5,2169.4 336.5,2183.0 337.9,2196.6 339.6,2208.8 341.3,2221.0 343.3,2227.8 346.4,2231.9 348.7,2241.4 350.8,2251.0 352.8,2259.1 354.6,2268.6 356.6,2280.0 359.3,2290.5 361.0,2304.5 362.8,2320.3 364.5,2332.6 368.9,2337.8 371.5,2349.2 375.9,2350.1 377.7,2364.1 380.3,2379.9 385.9,2388.6 388.2,2399.1 389.9,2414.9 392.6,2421.9 396.9,2430.7 402.2,2436.8 405.7,2448.2 408.3,2464.0 411.8,2478.0 416.2,2483.2 419.7,2493.7 421.5,2508.6 426.7,2509.2 429.3,2520.0 435.5,2530.5 439.9,2538.4 445.1,2546.3 449.5,2556.8 453.9,2567.3 456.5,2579.6 459.1,2595.3 463.5,2597.1 467.9,2603.2 474.0,2612.9 476.7,2629.5 480.2,2630.4 484.5,2635.6 488.0,2645.3 492.4,2648.8 495.0,2649.3 499.4,2653.2 503.8,2658.4 508.2,2665.4 512.6,2674.2 516.1,2676.8 522.2,2678.6 524.7,2683.5 528.1,2690.4 531.5,2700.7 536.1,2706.4 541.9,2713.3 545.3,2719.0 549.9,2719.7 552.2,2729.3 557.9,2731.6 563.6,2736.2 569.3,2743.1 575.1,2749.5 578.5,2756.8 584.2,2762.6 587.7,2768.3 592.3,2775.2 596.8,2777.5 600.3,2782.0 603.7,2791.2 608.3,2800.4 612.9,2803.8 616.3,2811.8 617.5,2832.4 622.0,2833.6 625.5,2841.6 630.1,2847.3 635.8,2853.1 638.1,2862.2 640.4,2874.8 648.4,2879.4 651.8,2884.7 661.0,2887.4 665.6,2893.2 669.0,2897.7 673.6,2900.0 677.0,2906.9 682.7,2908.5 686.2,2913.8 690.8,2924.1 697.6,2927.5 702.2,2931.4 707.9,2932.1 712.5,2937.8 717.1,2941.3 720.5,2949.7 727.4,2950.4 730.9,2959.6 738.9,2960.7 742.3,2963.0 746.9,2963.5 750.3,2969.9 754.9,2971.0 759.5,2974.5 764.1,2980.0 767.4,2982.2 770.1,2986.3 776.1,2988.3 779.5,2991.6 783.6,2996.0 789.6,2996.4 794.3,2998.4 799.1,2999.5 800.0,3000.8 804.6,3002.6 809.2,3006.5 813.7,3011.1 821.8,3014.5 825.2,3022.6 832.1,3023.7 836.7,3030.1 843.5,3030.6 847.0,3032.9 851.5,3034.0 857.3,3035.2 863.0,3038.6 868.7,3042.0 875.6,3042.5 880.2,3047.8 883.6,3050.7 888.2,3051.7 893.9,3053.5 899.7,3059.2 906.5,3060.8 912.3,3062.2 919.1,3065.4 926.0,3070.0 931.7,3070.4 937.5,3074.6 943.2,3077.5 950.1,3079.8 958.1,3083.3 962.7,3087.9 968.4,3089.0 975.3,3090.6 982.1,3092.0 987.9,3096.6 994.7,3097.5 1001.6,3099.8 1007.3,3102.7 1014.2,3103.4 1021.1,3105.7 1027.9,3106.9 1032.5,3107.3 1037.1,3111.9 1042.8,3115.3 1049.7,3117.2 1056.6,3119.5 1062.3,3125.7 1069.2,3126.1 1074.9,3129.6 1079.5,3138.3 1086.4,3139.4 1089.8,3143.3 1097.8,3144.0 1104.7,3146.3 1110.4,3148.6 1116.2,3151.5 1119.6,3152.0 1120.0,3152.0 1128.0,3152.3 1133.7,3155.7 1137.2,3156.4 1141.8,3160.3 1147.5,3161.4 1152.1,3163.3 1156.7,3163.7 1158.9,3165.5 1163.5,3166.0 1167.0,3172.9 1171.5,3177.0 1175.0,3178.6 1185.3,3179.3 1189.9,3182.0 1194.5,3185.5 1207.1,3185.9 1211.6,3187.8 1224.2,3188.5 1230.0,3190.1 1235.7,3191.7 1256.3,3191.9 1262.0,3195.3 1268.9,3195.8 1278.1,3196.5 1281.5,3198.1 1287.2,3199.7 1298.7,3200.1 1303.3,3201.5 1312.4,3202.2 1317.0,3204.5 1322.7,3206.8 1329.6,3210.0 1339.9,3210.7 1345.7,3212.3 1352.5,3215.3 1358.3,3215.9 1372.0,3216.4 1386.9,3217.1 1391.5,3219.2 1402.9,3219.8 1407.5,3221.7 1412.1,3224.4 1422.4,3224.9 1428.1,3227.4 1439.6,3227.6 1440.0,3227.8 1446.9,3228.1 1450.3,3232.9 1467.5,3233.3 1482.4,3233.8 1485.8,3236.5 1489.3,3238.6 1500.7,3239.1 1506.4,3240.4 1521.3,3241.4 1524.8,3243.9 1528.2,3245.5 1540.8,3245.9 1545.4,3246.8 1559.1,3247.3 1564.9,3248.9 1577.5,3249.4 1580.9,3251.2 1587.8,3251.9 1591.2,3255.8 1606.1,3256.2 1609.5,3257.6 1621.0,3258.3 1625.6,3259.9 1631.3,3260.8 1641.6,3261.3 1649.6,3262.0 1664.5,3262.4 1669.1,3265.4 1685.1,3265.9 1688.6,3266.8 1700.0,3267.2 1704.6,3269.5 1710.3,3272.3 1716.1,3273.4 1725.2,3274.1 1731.0,3275.9 1737.8,3276.9 1748.1,3277.5 1759.6,3278.2 1760.0,3279.2 1769.4,3279.5 1774.8,3283.8 1784.3,3285.7 1800.4,3286.2 1815.3,3287.3 1823.3,3289.2 1828.7,3292.4 1846.3,3293.2 1865.1,3294.6 1870.5,3296.7 1889.4,3297.8 1905.6,3298.9 1921.7,3299.7 1928.5,3301.8 1948.7,3302.6 1970.2,3303.5 1975.6,3304.8 1989.1,3305.6 1997.2,3307.5 2016.1,3308.3 2040.3,3309.1 2051.1,3310.7 2070.0,3311.3 2087.5,3311.8 2102.3,3312.9 2121.2,3313.7 2132.5,3314.8" stroke="#58ad12"/>
</g>
<text class="t" text-anchor="end" x="292.0" y="1957.0">40</text>
<text class="t" text-anchor="end" x="292.0" y="2152.9">35</text>
<text class="t" text-anchor="end" x="292.0" y="2348.8">30</text>
<text class="t" text-anchor="end" x="292.0" y="2544.6">25</text>
<text class="t" text-anchor="end" x="292.0" y="2740.5">20</text>
<text class="t" text-anchor="end" x="292.0" y="2936.4">15</text>
<text class="t" text-anchor="end" x="292.0" y="3132.2">10</text>
<text class="t" text-anchor="end" x="292.0" y="3328.1">5</text>
<text class="t" text-anchor="end" x="292.0" y="3524.0">0</text>
<text class="t" text-anchor="middle" x="317.0" y="3600.0">0</text>
<text class="t" text-anchor="middle" x="680.1" y="3600.0">100</text>
<text class="t" text-anchor="middle" x="1043.2" y="3600.0">200</text>
<text class="t" text-anchor="middle" x="1406.3" y="3600.0">300</text>
<text class="t" text-anchor="middle" x="1769.4" y="3600.0">400</text>
<text class="t" text-anchor="middle" x="2132.5" y="3600.0">500</text>
<text class="l" text-anchor="middle" x="1222.8" y="3717.0">Iterations</text>
<text class="yl" text-anchor="middle" transform="translate(163.6,2709.5) rotate(-90)">RMSE [dB/m]</text>
<text class="b" x="356.8" y="2009">(b)</text>
<rect x="1848.60" y="1968.50" width="236.00" height="490.00" fill="#fff" stroke="#161616" stroke-width="2.6"/>
<path d="M1856.0,2020.2 h88" stroke="#0072c6" stroke-width="3" fill="none"/>
<text class="g" x="1949.1" y="2050.4">1st</text>
<path d="M1856.0,2116.8 h88" stroke="#f5500a" stroke-width="2" fill="none"/>
<text class="g" x="1949.1" y="2146.9">2nd</text>
<path d="M1856.0,2213.3 h88" stroke="#fdae0a" stroke-width="3" fill="none"/>
<text class="g" x="1949.1" y="2243.4">3rd</text>
<path d="M1856.0,2309.8 h88" stroke="#92259a" stroke-width="2" fill="none"/>
<text class="g" x="1949.1" y="2339.9">4th</text>
<path d="M1856.0,2406.4 h88" stroke="#58ad12" stroke-width="3" fill="none"/>
<text class="g" x="1949.1" y="2436.4">5th</text>
</g>
</svg></body></html>
